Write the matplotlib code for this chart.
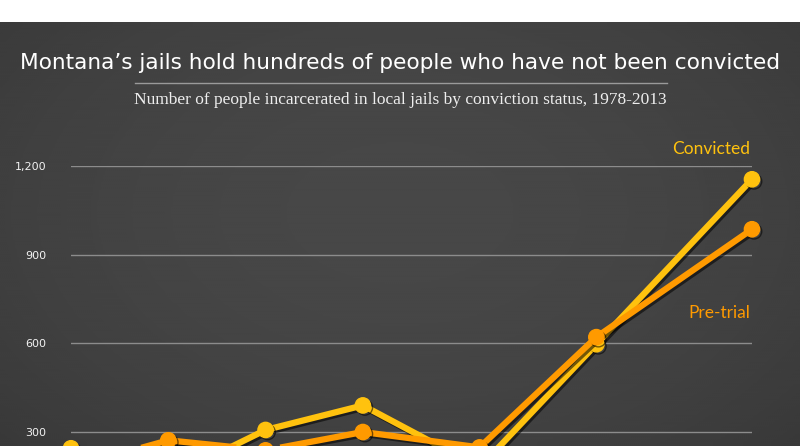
import numpy as np
import matplotlib; matplotlib.use("Agg")
import matplotlib.pyplot as plt
import matplotlib.patheffects as pe

years=[1978,1983,1988,1993,1999,2005,2013]
convicted=[245,145,307,390,180,597,1155]
pretrial=[180,272,238,300,248,621,986]
yticks=[300,600,900,1200]
ytick_labels=["300","600","900","1,200"]

C_CONV="#FFC20E"; C_PRE="#FF9A00"
W,H=800,446
fig=plt.figure(figsize=(W/100,H/100),dpi=100,facecolor="white")

# dark panel with soft vignette
bg=fig.add_axes([0,0,1,(H-22)/H]); bg.set_axis_off()
yy,xx=np.mgrid[0:1:200j,0:1:400j]
r=np.sqrt(((xx-0.5)/0.75)**2+((yy-0.45)/0.9)**2)
bg.imshow(0.28-0.07*np.clip(r,0,1)**2,cmap="gray",vmin=0,vmax=1,aspect="auto",
          extent=[0,1,0,1],interpolation="bicubic")
bg.set_xlim(0,1);bg.set_ylim(0,1)

fig.text(0.5,1-63/H,"Montana\u2019s jails hold hundreds of people who have not been convicted",
         ha="center",va="center",color="white",fontsize=15.6,family="DejaVu Sans")
fig.add_artist(plt.Line2D([135/W,667/W],[1-83/H]*2,color="#9a9a9a",lw=1))
fig.text(0.5,1-100/H,"Number of people incarcerated in local jails by conviction status, 1978-2013",
         ha="center",va="center",color="#eeeeee",fontsize=12.5,family="Liberation Serif")

ax=fig.add_axes([71/W,1-520.7/H,681/W,(520.7-166)/H])
ax.patch.set_alpha(0)
ax.set_xlim(1978,2013); ax.set_ylim(0,1200)
for s in ax.spines.values(): s.set_visible(False)
ax.set_xticks([])
ax.set_yticks(yticks); ax.set_yticklabels(ytick_labels)
ax.tick_params(axis="y",length=0,pad=18,labelcolor="#f2f2f2",labelsize=8)
for t in yticks: ax.axhline(t,color="#8c8c8c",lw=1,zorder=1)

shadow=[pe.SimpleLineShadow(offset=(1.5,-1.5),shadow_color="black",alpha=0.55),pe.Normal()]
ax.plot(years,convicted,color=C_CONV,lw=4.5,marker="o",ms=11,clip_on=False,zorder=3,path_effects=shadow)
ax.plot(years,pretrial,color=C_PRE,lw=4.5,marker="o",ms=11,clip_on=False,zorder=4,path_effects=shadow)

ax.text(2012.9,1257,"Convicted",ha="right",va="center",color=C_CONV,fontsize=12.5,family="Lato")
ax.text(2012.9,703,"Pre-trial",ha="right",va="center",color=C_PRE,fontsize=12.5,family="Lato")

fig.savefig("out.png",dpi=100,facecolor="white")
